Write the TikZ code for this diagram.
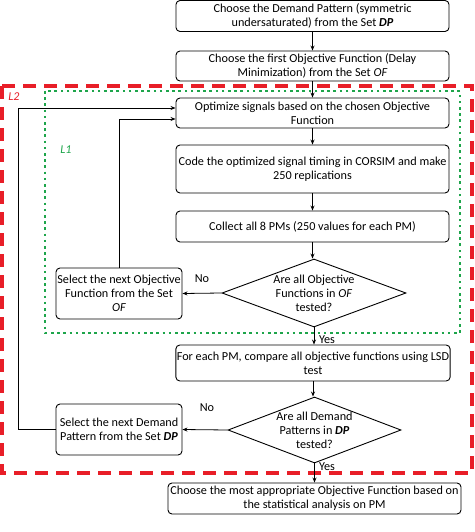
\documentclass[tikz,border=0pt]{standalone}
\usepackage{fontspec}
\setmainfont{Carlito}
\usetikzlibrary{shapes.geometric,arrows.meta}
\definecolor{lred}{RGB}{232,30,40}
\definecolor{lgreen}{RGB}{30,165,75}
\begin{document}
\begin{tikzpicture}[x=1pt,y=-1pt,
  txt/.style={font=\fontsize{12.2}{14}\selectfont},
  box/.style={txt,draw,rounded corners=4pt,line width=0.9pt,align=center,inner sep=1pt},
  dec/.style={txt,draw,diamond,line width=0.9pt,align=center,inner sep=0pt},
  arr/.style={-{Stealth[length=5pt,width=4pt]},line width=0.8pt},
  lab/.style={txt,inner sep=0pt}]
\useasboundingbox (0,0) rectangle (474,532);
% loop frames
\draw[lred,line width=4pt,dash pattern=on 13pt off 8pt] (2,86) rectangle (472,473);
\draw[lgreen,line width=2.6pt,dash pattern=on 2.6pt off 3.6pt] (45,91) rectangle (460,333);
\node[lab,text=lred,font=\fontsize{12}{14}\selectfont\itshape] (l2) at (14,97) {L2};
\node[lab,text=lgreen,font=\fontsize{12}{14}\selectfont\itshape] (l1) at (66,150) {L1};
% boxes
\node[box,minimum width=273pt,minimum height=31pt] (b1) at (312.5,16) {Choose the Demand Pattern (symmetric\\undersaturated) from the Set \textbf{\textit{DP}}};
\node[box,minimum width=273pt,minimum height=30pt] (b2) at (312.5,66) {Choose the first Objective Function (Delay\\Minimization) from the Set \textit{OF}};
\node[box,minimum width=273pt,minimum height=30pt] (b3) at (312.5,113) {Optimize signals based on the chosen Objective\\Function};
\node[box,minimum width=273pt,minimum height=48pt] (b4) at (312.5,169) {Code the optimized signal timing in CORSIM and make\\250 replications};
\node[box,minimum width=273pt,minimum height=31pt] (b5) at (312.5,226.5) {Collect all 8 PMs (250 values for each PM)};
\node[dec,aspect=2.7,minimum width=184pt,minimum height=68pt] (d1) at (314,293) {Are all Objective\\Functions in \textit{OF}\\tested?};
\node[box,minimum width=126pt,minimum height=51pt] (s1) at (119,293.5) {Select the next Objective\\Function from the Set\\\textit{OF}};
\node[box,minimum width=274pt,minimum height=36pt] (b8) at (313,363) {For each PM, compare all objective functions using LSD\\test};
\node[dec,aspect=2.62,minimum width=173pt,minimum height=66pt] (d2) at (314.5,430) {Are all Demand\\Patterns in \textbf{\textit{DP}}\\tested?};
\node[box,minimum width=126pt,minimum height=51pt] (s2) at (119,429.5) {Select the next Demand\\Pattern from the Set \textbf{\textit{DP}}};
\node[box,minimum width=293pt,minimum height=31pt] (b9) at (314.5,498.5) {Choose the most appropriate Objective Function based on\\the statistical analysis on PM};
% labels
\node[lab] (no1) at (202,279) {No};
\node[lab] (no2) at (207,408) {No};
\node[lab] (yes1) at (327,340) {Yes};
\node[lab] (yes2) at (327,467) {Yes};
% connectors
\draw[arr] (b1) -- (b2);
\draw[arr] (b2) -- (b3);
\draw[arr] (b3) -- (b4);
\draw[arr] (b4) -- (b5);
\draw[arr] (b5) -- (b5 |- d1.north);
\draw[arr] (d1.west) -- (s1.east);
\draw[arr] (d1.south) -- (b8.north -| d1.south);
\draw[arr] (b8) -- (b8 |- d2.north);
\draw[arr] (d2.west) -- (s2.east);
\draw[arr] (d2.south) -- (b9.north -| d2.south);
\draw[arr] (s1.north) |- ([yshift=-6pt]b3.west);
\coordinate (c2) at (18,108);
\draw[arr] (s2.west) -| (c2) -- ([yshift=5pt]b3.west);
\end{tikzpicture}
\end{document}
